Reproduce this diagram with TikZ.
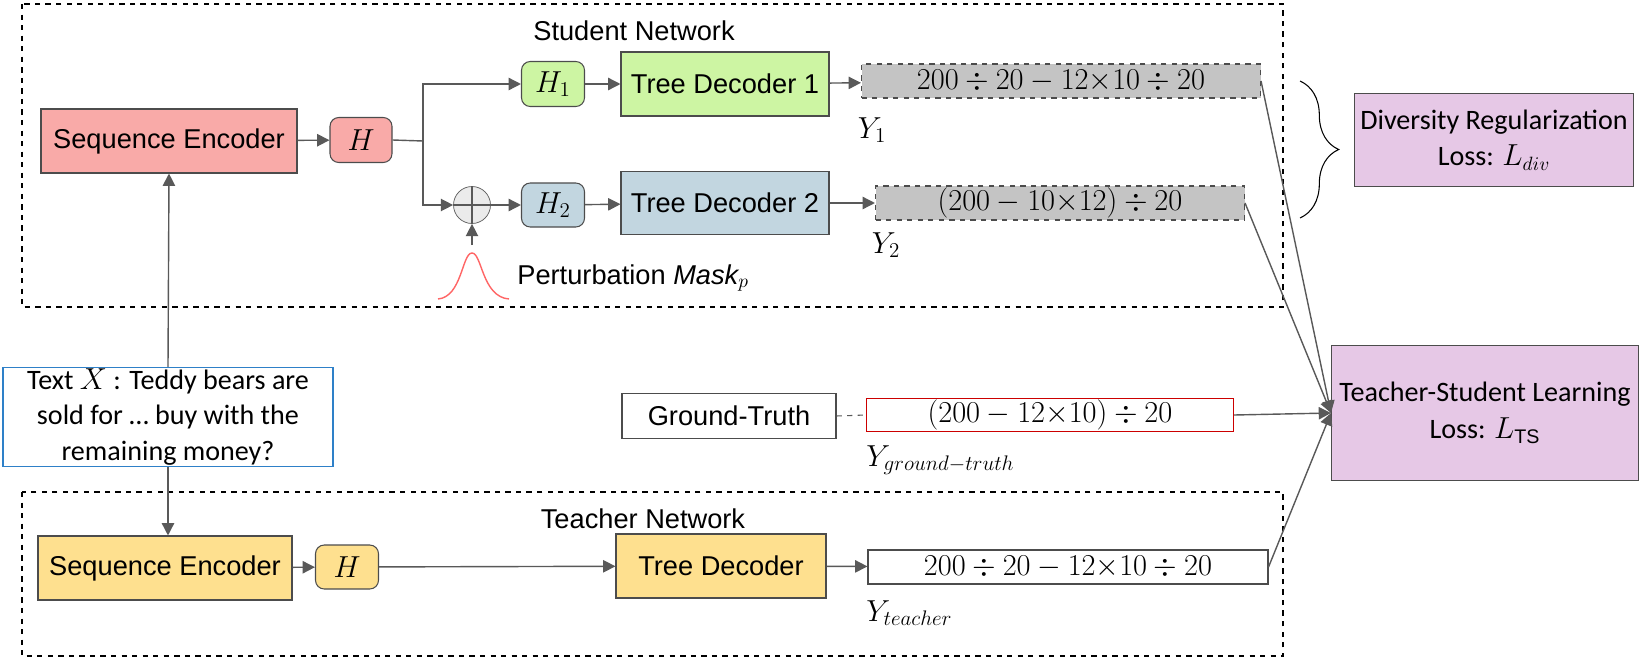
\documentclass[tikz,border=0pt]{standalone}
\usepackage{fontspec}
\setmainfont{Liberation Sans}
\newfontfamily\calib{Carlito}
\usetikzlibrary{arrows.meta,decorations.pathreplacing}
\definecolor{ln}{HTML}{595959}
\definecolor{redf}{HTML}{F9AAA8}
\definecolor{grnf}{HTML}{CDF5A3}
\definecolor{bluf}{HTML}{C2D6E0}
\definecolor{yelf}{HTML}{FEE08F}
\definecolor{purf}{HTML}{E6C8E6}
\definecolor{grayf}{HTML}{C4C4C4}
\definecolor{txtb}{HTML}{2E80C8}
\tikzset{
 base/.style={font=\fontsize{15.5}{19}\selectfont, inner sep=0pt},
 mth/.style={font=\fontsize{17}{20}\selectfont},
 blk/.style={base, draw=black!70, line width=0.6pt},
 rblk/.style={blk, rounded corners=5pt},
 arr/.style={draw=ln, line width=0.8pt, -{Triangle[length=7pt,width=7pt]}},
 frame/.style={draw=black, dashed, line width=0.9pt},
}
\begin{document}
\begin{tikzpicture}[x=0.02cm,y=-0.02cm]
\useasboundingbox (0,0) rectangle (1640,659);
\draw[frame] (22,4) rectangle (1283,307);
\draw[frame] (22,492) rectangle (1283,656);
\node[base] (st) at (634,31) {Student Network};
\node[base] (tt) at (643,519) {Teacher Network};

% student
\node[blk, fill=redf, minimum width=256*0.02cm, minimum height=64*0.02cm] (se) at (169,141) {Sequence Encoder};
\node[rblk, fill=redf, minimum width=62*0.02cm, minimum height=45*0.02cm, mth] (h) at (361,140) {$H$};
\node[rblk, fill=grnf, minimum width=63*0.02cm, minimum height=45*0.02cm, mth] (h1) at (553,84) {$H_1$};
\node[blk, fill=grnf, minimum width=208*0.02cm, minimum height=64*0.02cm] (td1) at (725,84) {Tree Decoder 1};
\node[circle, draw=ln, fill=black!8, minimum size=37*0.02cm, inner sep=0pt] (pl) at (472,205) {};
\draw[ln, line width=0.6pt] (pl.north)--(pl.south) (pl.west)--(pl.east);
\node[rblk, fill=bluf, minimum width=63*0.02cm, minimum height=44*0.02cm, mth] (h2) at (553,205) {$H_2$};
\node[blk, fill=bluf, minimum width=208*0.02cm, minimum height=63*0.02cm] (td2) at (725,203) {Tree Decoder 2};
\coordinate (sp) at (423,141);
\coordinate (gs) at (472,245);
\draw[red!60, line width=0.8pt] (438,299) .. controls (462,297) and (462,253) .. (472,253) .. controls (482,253) and (482,297) .. (509,299);
\node[base, anchor=west] (pm) at (517,278) {Perturbation $\mathit{Mask}_p$};
\node[blk, dashed, fill=grayf, minimum width=399*0.02cm, minimum height=34*0.02cm, mth] (y1) at (1061,81) {$200\div20-12{\times}10\div20$};
\node[base, mth] (y1l) at (872,130) {$Y_1$};
\node[blk, dashed, fill=grayf, minimum width=369*0.02cm, minimum height=34*0.02cm, mth] (y2) at (1060,203) {$(200-10{\times}12)\div20$};
\node[base, mth] (y2l) at (886,245) {$Y_2$};

\draw[arr] (se)--(h);
\draw[ln, line width=0.8pt] (h.east)--(sp);
\draw[arr] (sp)|-(h1.west);
\draw[arr] (sp)|-(pl.west);
\draw[arr] (pl)--(h2);
\draw[arr] (gs)--(pl.south);
\draw[arr] (h1)--(td1);
\draw[arr] (h2)--(td2);
\draw[arr] (td1)--(y1);
\draw[arr] (td2)--(y2);

% right
\draw[decorate, decoration={brace, amplitude=22pt}, line width=0.6pt] (1300,81)--(1300,218);
\node[blk, fill=purf, minimum width=279*0.02cm, minimum height=93*0.02cm, align=center, font=\calib\fontsize{16}{21}\selectfont] (dr) at (1494,140) {Diversity Regularization\\Loss: $L_{div}$};
\node[blk, fill=purf, minimum width=307*0.02cm, minimum height=135*0.02cm, align=center, font=\calib\fontsize{16}{21}\selectfont] (ts) at (1485,413) {Teacher-Student Learning\\Loss: $L_{\mathrm{TS}}$};

% text
\node[blk, draw=txtb, minimum width=330*0.02cm, minimum height=99*0.02cm, align=center, font=\calib\fontsize{16}{20}\selectfont] (tx) at (168,417) {Text $X$ : Teddy bears are\\sold for \dots\ buy with the\\remaining money?};
\node[blk, minimum width=214*0.02cm, minimum height=45*0.02cm] (gt) at (729,416) {Ground-Truth};
\node[blk, draw=red!80!black, minimum width=367*0.02cm, minimum height=33*0.02cm, mth] (yg) at (1050,415) {$(200-12{\times}10)\div20$};
\node[base, mth, anchor=west] (ygl) at (866,460) {$Y_{ground-truth}$};
\draw[ln, dashed, line width=0.6pt] (gt.east)--(yg.west);

% teacher
\node[blk, fill=yelf, minimum width=254*0.02cm, minimum height=64*0.02cm] (se2) at (165,568) {Sequence Encoder};
\node[rblk, fill=yelf, minimum width=63*0.02cm, minimum height=44*0.02cm, mth] (hh) at (347,567) {$H$};
\node[blk, fill=yelf, minimum width=210*0.02cm, minimum height=64*0.02cm] (td) at (721,566) {Tree Decoder};
\node[blk, minimum width=400*0.02cm, minimum height=34*0.02cm, mth] (yt) at (1068,567) {$200\div20-12{\times}10\div20$};
\node[base, mth, anchor=west] (ytl) at (866,613) {$Y_{teacher}$};
\draw[arr] (se2)--(hh);
\draw[arr] (hh)--(td);
\draw[arr] (td)--(yt);

\draw[arr] (tx.north)--(se.south);
\draw[arr] (tx.south)--(se2.north-|tx.south);

\coordinate (tsin) at (1331,413);
\draw[arr] (y1.east)--(tsin);
\draw[arr] (y2.east)--(tsin);
\draw[arr] (yg.east)--(tsin);
\draw[arr] (yt.east)--(tsin);
\end{tikzpicture}
\end{document}
